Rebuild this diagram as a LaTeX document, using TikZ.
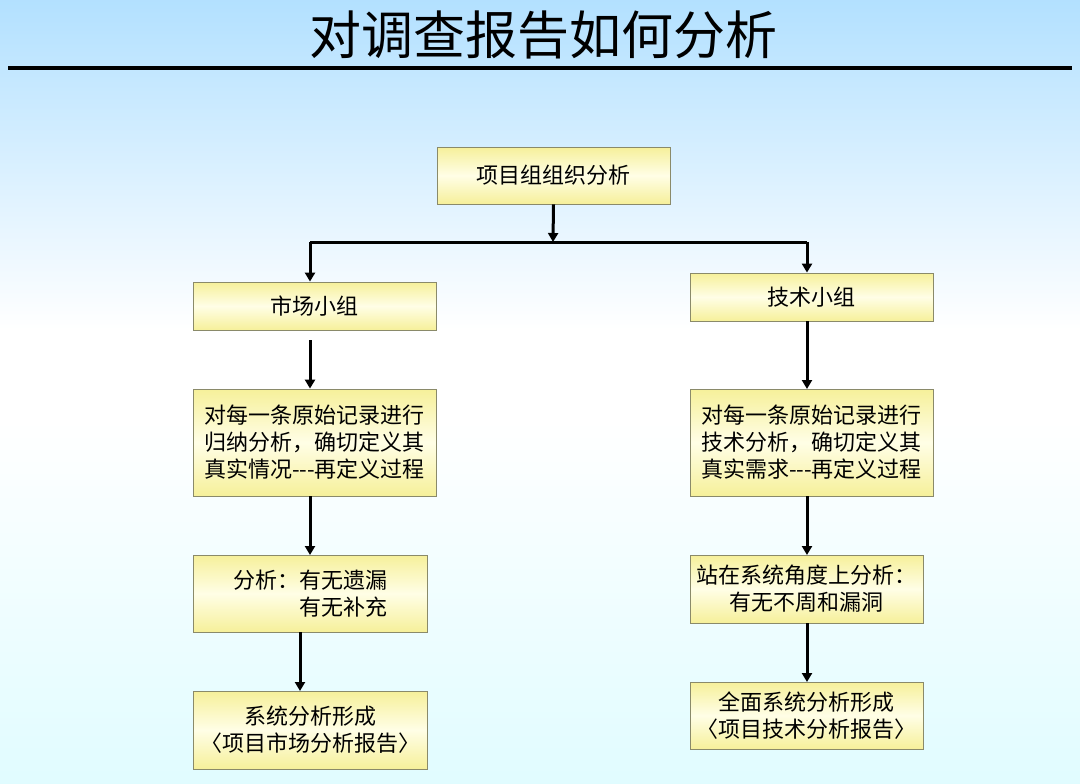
\documentclass[tikz,border=0pt]{standalone}
\usepackage{fontspec}
\setmainfont{Noto Sans CJK SC}
\usetikzlibrary{arrows.meta}
\definecolor{bxtop}{HTML}{F6F09A}
\definecolor{bxmid}{HTML}{FFFEE6}
\definecolor{bxline}{HTML}{8A8A6A}
\begin{document}
\begin{tikzpicture}[x=1pt,y=-1pt,
  bx/.style={draw=bxline,line width=0.8pt,top color=bxtop,bottom color=bxtop,middle color=bxmid,
    inner sep=0pt,font=\fontsize{22}{27}\selectfont,align=left},
  arr/.style={line width=3pt,-{Triangle[length=9pt,width=10pt]}},
  ln/.style={line width=3pt}]
\useasboundingbox (0,0) rectangle (1080,784);
\shade[top color=blue!40!cyan!30!white,bottom color=white] (0,0) rectangle (1080,330);
\fill[white] (0,330) rectangle (1080,420);
\shade[top color=white,bottom color=blue!10!cyan!12!white] (0,420) rectangle (1080,784);
\node[font=\fontsize{52}{56}\selectfont] (title) at (543,35) {对调查报告如何分析};
\draw[line width=4pt] (8,68) -- (1072,68);
% boxes
\node[bx,minimum width=233pt,minimum height=57pt] (top) at (553.5,175.5) {项目组组织分析};
\node[bx,minimum width=243pt,minimum height=48pt] (l1) at (314.5,306) {市场小组};
\node[bx,minimum width=243pt,minimum height=107pt] (l2) at (314.5,442.5) {对每一条原始记录进行\\归纳分析，确切定义其\\真实情况-{}-{}-再定义过程};
\node[bx,minimum width=234pt,minimum height=77pt] (l3) at (310,593.5) {分析：有无遗漏\\\hspace*{3em}有无补充};
\node[bx,minimum width=234pt,minimum height=78pt,align=center] (l4) at (310,730) {系统分析形成\\〈项目市场分析报告〉};
\node[bx,minimum width=243pt,minimum height=48pt] (r1) at (811.5,297) {技术小组};
\node[bx,minimum width=243pt,minimum height=107pt] (r2) at (811.5,442.5) {对每一条原始记录进行\\技术分析，确切定义其\\真实需求-{}-{}-再定义过程};
\node[bx,minimum width=233pt,minimum height=68pt,align=center] (r3) at (806.5,589) {站在系统角度上分析：\\有无不周和漏洞};
\node[bx,minimum width=233pt,minimum height=67pt,align=center] (r4) at (806.5,715.5) {全面系统分析形成\\〈项目技术分析报告〉};
% connectors
\coordinate (hj) at (553,242);
\coordinate (hl) at (310,242);
\coordinate (hr) at (807,242);
\draw[arr] (top.south) -- (hj);
\draw[ln] (hl) -- (hr);
\draw[arr] (hl) -- (hl|-l1.north);
\draw[arr] (hr) -- (hr|-r1.north);
\coordinate (l1s) at (310,340);
\draw[arr] (l1s) -- (l1s|-l2.north);
\draw[arr] (310,496) -- (310,555);
\draw[arr] (300,632) -- (300,691);
\draw[arr] (807,321) -- (807,389);
\draw[arr] (807,496) -- (807,555);
\draw[arr] (807,623) -- (807,682);
\end{tikzpicture}
\end{document}
